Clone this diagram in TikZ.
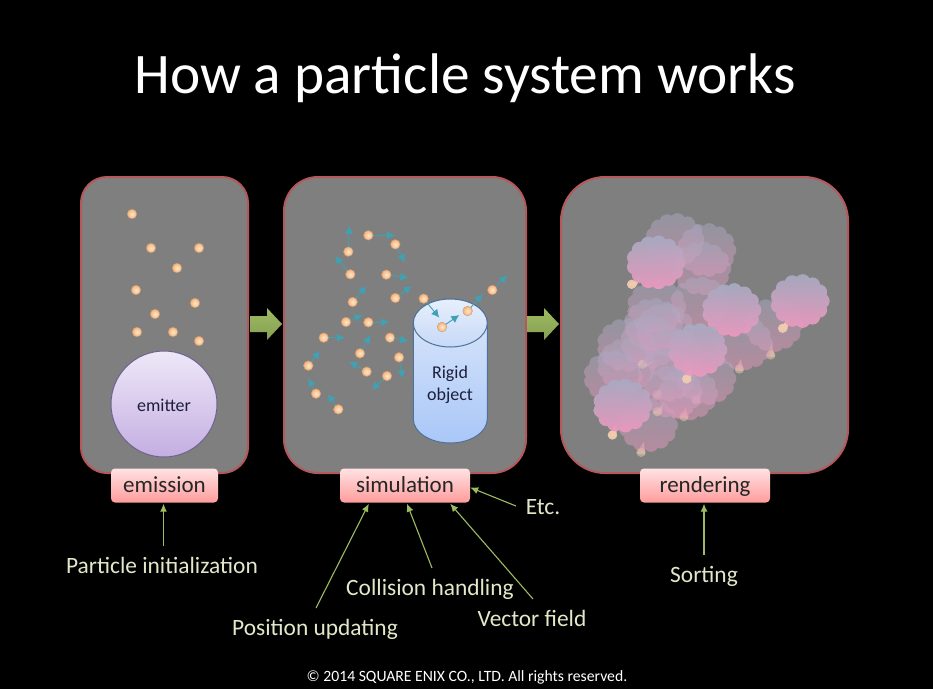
\documentclass[tikz,border=0pt]{standalone}
\usepackage{fontspec}
\setmainfont{Carlito}
\usetikzlibrary{calc,arrows.meta}
\definecolor{panelgray}{HTML}{7F7F7F}
\definecolor{panelred}{HTML}{B4585C}
\definecolor{labeltxt}{HTML}{E4E8C8}
\definecolor{leaf}{HTML}{9DBB61}
\definecolor{teal1}{HTML}{3FA2B4}
\definecolor{stagetop}{HTML}{FFE2E2}
\definecolor{stagebot}{HTML}{FF9C9C}
\definecolor{ballin}{HTML}{FFE9CE}
\definecolor{ballout}{HTML}{F3B27A}
\definecolor{ballrim}{HTML}{C8986C}
\definecolor{cloudtop}{HTML}{A6ABC2}
\definecolor{cloudbot}{HTML}{EC98BE}
\definecolor{tailc}{HTML}{EFCBB0}
\definecolor{inktxt}{HTML}{1E1E3C}
\definecolor{emtop}{HTML}{EEE8F8}
\definecolor{embot}{HTML}{C4AEE2}
\definecolor{emrim}{HTML}{6E6490}
\definecolor{cyltop}{HTML}{DDE8FA}
\definecolor{cylbot}{HTML}{A9C7F8}
\definecolor{cylcap}{HTML}{C6D9F8}
\definecolor{cylrim}{HTML}{4F7298}
\tikzset{
  panel/.style={draw=panelred,line width=2pt,fill=panelgray},
  stage/.style={draw=none,rounded corners=4pt,top color=stagetop,bottom color=stagebot,text=black!85,font=\fontsize{23}{26}\selectfont,minimum height=34pt,inner sep=0pt,text height=19pt,text depth=5pt,anchor=center},
  note/.style={text=labeltxt,font=\fontsize{23.4}{26}\selectfont,inner sep=0pt,text height=21pt,text depth=5pt},
  lead/.style={draw=leaf,line width=1.1pt,-{Latex[length=8pt,width=7pt]}},
  vel/.style={draw=teal1,line width=.9pt,-{Latex[length=8pt,width=8pt]}},
  blockarrow/.style={draw=none,top color=leaf,bottom color=leaf!85!black},
}
\newcommand{\ball}[3]{\draw[line width=.4pt,draw=ballrim,inner color=ballin,outer color=ballout] (#1,#2) circle (#3);}
\newcommand{\fcloud}[5]{%
  \begin{scope}[opacity=#5]
    \ifx&#3&\else
    \fill[tailc] (#3,#4) circle (14);
    \fill[tailc] ($(#3,#4)+(-13,4)$) -- ($(#3,#4)!.4!(#1,#2)$) -- ($(#3,#4)+(13,7)$) -- cycle;
    \fi
    \shade[top color=cloudtop,bottom color=cloudbot]
      (#1,#2) circle (66)
      foreach \a in {0,27.7,...,335} {($(#1,#2)+(\a:66 and 58)$) circle (23)};
  \end{scope}}
\begin{document}
\begin{tikzpicture}[x=1pt,y=-1pt]
\useasboundingbox (0,0) rectangle (933,689);
\fill[black] (0,0) rectangle (933,689);
\node[text=white,font=\fontsize{57.3}{62}\selectfont,inner sep=0pt] (title) at (465,78) {How a particle system works};

% panels
\draw[panel,rounded corners=26pt] (81,177) rectangle (248,473);
\draw[panel,rounded corners=34pt] (284,177) rectangle (526,473);
\draw[panel,rounded corners=44pt] (561,177) rectangle (848,473);

% block arrows
\path[blockarrow] (250,316) -- (267,316) -- (267,308) -- (282,324) -- (267,340) -- (267,332) -- (250,332) -- cycle;
\path[blockarrow] (527,316) -- (544,316) -- (544,308) -- (559,324) -- (544,340) -- (544,332) -- (527,332) -- cycle;

% emission
\draw[draw=emrim,line width=1pt,top color=emtop,bottom color=embot] (164,404) circle (53);
\node[text=inktxt,font=\fontsize{18}{20}\selectfont,inner sep=0pt] (emit) at (164,405) {emitter};
\foreach \x/\y in {132/214,151/248,199/248,177/268,136/290,195/303,155/314,137/332,173/332,199/341}
  \ball{\x}{\y}{4.8};

% rigid object
\path[draw=cylrim,line width=1pt,top color=cyltop,bottom color=cylbot]
  (413.3,323) -- (413.3,419) arc[start angle=180,end angle=0,x radius=37,y radius=24] -- (487.3,323) arc[start angle=0,end angle=-180,x radius=37,y radius=24] -- cycle;
\draw[draw=cylrim,line width=1pt,top color=cyltop!70!white,bottom color=cylcap] (450.3,323) ellipse[x radius=37,y radius=24];
\node[text=inktxt,align=center,font=\fontsize{18}{22}\selectfont,inner sep=0pt] (rigid) at (450,385) {Rigid\\object};

% simulation particles (zoom units)
\begin{scope}[shift={(280,175)},x=.3333pt,y=-.3333pt]
\foreach \x/\y/\u/\v in {205/230/208/152,265/181/345/181,346/208/375/262,211/298/165/243,319/299/385/309,346/369/395/333,431/371/478/428,218/381/260/333,198/441/248/420,265/442/328/442,131/488/195/488,330/488/385/497,240/535/272/480,357/547/368/610,85/572/120/527,260/590/207/560,321/603/275/645,108/656/85/610,175/703/143/657,486/456/538/420,563/408/608/357,637/345/682/300}{
  \draw[vel] (\x,\y) -- (\u,\v);
  \ball{\x}{\y}{14.5};
}
\end{scope}

% clouds (zoom units)
\begin{scope}[shift={(560,175)},x=.3333pt,y=-.3333pt]
\def\bk{.5}
\fcloud{345}{195}{}{}{\bk}
\fcloud{440}{225}{}{}{\bk}
\fcloud{425}{280}{}{}{\bk}
\fcloud{640}{450}{632}{540}{\bk}
\fcloud{550}{505}{538}{582}{\bk}
\fcloud{290}{395}{}{}{\bk}
\fcloud{420}{385}{}{}{\bk}
\fcloud{280}{450}{}{}{\bk}
\fcloud{315}{465}{}{}{\bk}
\fcloud{200}{510}{}{}{\bk}
\fcloud{270}{500}{}{}{\bk}
\fcloud{200}{570}{}{}{\bk}
\fcloud{160}{605}{}{}{\bk}
\fcloud{265}{750}{243}{832}{\bk}
\fcloud{340}{540}{248}{568}{\bk}
\fcloud{440}{610}{408}{675}{\bk}
\fcloud{320}{600}{292}{660}{\bk}
\fcloud{385}{655}{372}{725}{\bk}
\fcloud{340}{650}{292}{710}{\bk}
\fcloud{288}{262}{215}{328}{.95}
\fcloud{515}{405}{}{}{.95}
\fcloud{720}{378}{668}{460}{.95}
\fcloud{413}{525}{380}{612}{.95}
\fcloud{188}{692}{157}{780}{.95}
\end{scope}

% stage labels
\node[stage,minimum width=107pt] (emission) at (164.5,485.5) {emission};
\node[stage,minimum width=130pt] (simulation) at (405,485.5) {simulation};
\node[stage,minimum width=130pt] (rendering) at (705,485.5) {rendering};

% notes
\node[note] (init) at (162,565) {Particle initialization};
\node[note] (etc) at (543,506) {Etc.};
\node[note] (coll) at (430,587) {Collision handling};
\node[note] (vec) at (532,618) {Vector field};
\node[note] (posu) at (315,627) {Position updating};
\node[note] (sort) at (704,574) {Sorting};
\node[text=white,font=\fontsize{15.7}{18}\selectfont,inner sep=0pt] (copy) at (467,677) {© 2014 SQUARE ENIX CO., LTD. All rights reserved.};

% leads
\coordinate (initend) at (163.5,546);
\coordinate (sortend) at (704,555);
\coordinate (posend) at (316,608);
\coordinate (collend) at (432,568);
\coordinate (vecend) at (533,599);
\coordinate (etcend) at (516,506);
\draw[lead] (initend) -- ($(emission.south)+(-1,1)$);
\draw[lead] (sortend) -- ($(rendering.south)+(-1,1)$);
\draw[lead] (posend) -- ($(simulation.south west)+(29,1)$);
\draw[lead] (collend) -- ($(simulation.south)+(2,1)$);
\draw[lead] (vecend) -- ($(simulation.south east)+(-20,1)$);
\draw[lead] (etcend) -- ($(simulation.east)+(0,2)$);
\end{tikzpicture}
\end{document}
